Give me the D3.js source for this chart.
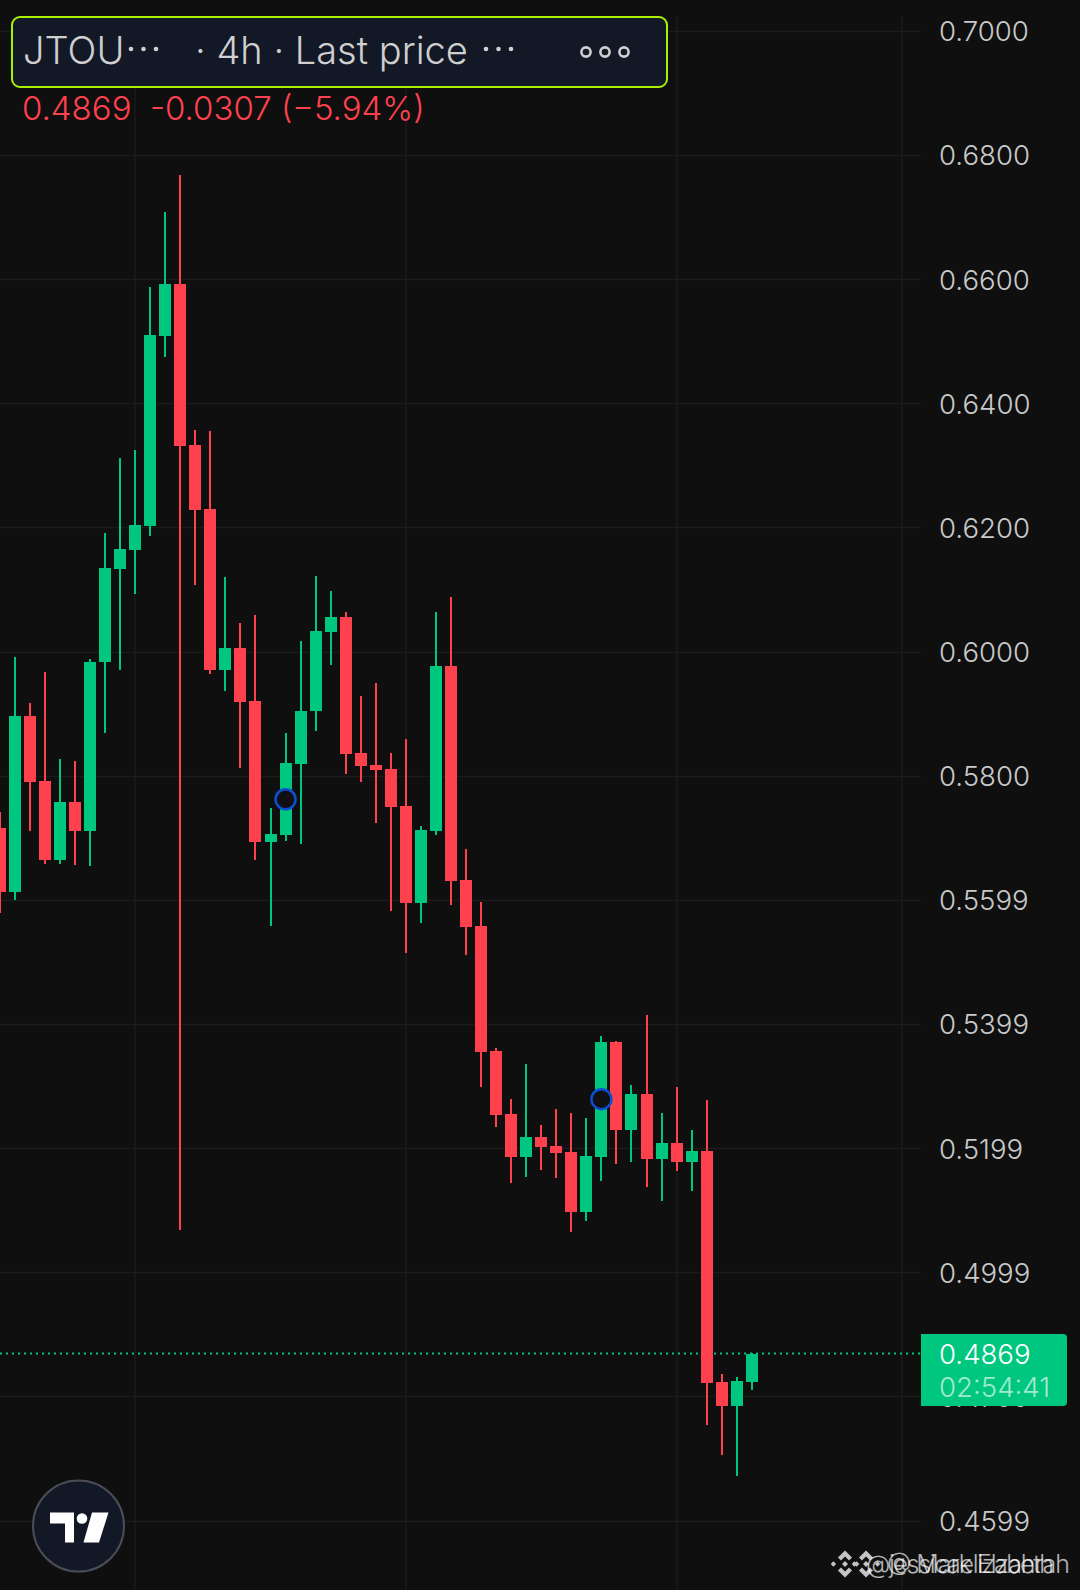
<!DOCTYPE html>
<html>
<head>
<meta charset="utf-8">
<script src="https://cdn.jsdelivr.net/npm/d3@7/dist/d3.min.js"></script>
<style>
  html, body { margin: 0; padding: 0; background: #0f0f0f; }
  svg { display: block; font-family: Inter, "Noto Sans", sans-serif; }
</style>
</head>
<body>
<div id="chart"></div>
<script>
'use strict';

var opens = [0.5716, 0.5612, 0.5896, 0.5791, 0.5664, 0.5758, 0.5711, 0.5983, 0.6133, 0.6164, 0.6202, 0.6508, 0.6592,
    0.6333, 0.6229, 0.5970, 0.6006, 0.5920, 0.5693, 0.5704, 0.5819, 0.5904, 0.6031, 0.6056, 0.5836, 0.5818, 0.5811,
    0.5752, 0.5595, 0.5711, 0.5977, 0.5632, 0.5558, 0.5357, 0.5255, 0.5186, 0.5218, 0.5204, 0.5194, 0.5097, 0.5186,
    0.5371, 0.5229, 0.5287, 0.5183, 0.5208, 0.5178, 0.5196, 0.4823, 0.4785, 0.4823];
var highs = [0.5741, 0.5991, 0.5917, 0.5967, 0.5827, 0.5823, 0.5988, 0.6191, 0.6312, 0.6325, 0.6587, 0.6708, 0.6768,
    0.6357, 0.6355, 0.6120, 0.6046, 0.6059, 0.5748, 0.5869, 0.6017, 0.6122, 0.6098, 0.6063, 0.5929, 0.5949, 0.5836,
    0.5859, 0.5719, 0.6064, 0.6088, 0.5682, 0.5597, 0.5361, 0.5280, 0.5336, 0.5237, 0.5263, 0.5257, 0.5249, 0.5380,
    0.5372, 0.5302, 0.5414, 0.5257, 0.5298, 0.5229, 0.5278, 0.4836, 0.4831, 0.4870];
var lows = [0.5579, 0.5600, 0.5711, 0.5658, 0.5658, 0.5656, 0.5655, 0.5869, 0.5970, 0.6093, 0.6186, 0.6474, 0.5068,
    0.6107, 0.5964, 0.5937, 0.5813, 0.5665, 0.5558, 0.5695, 0.5690, 0.5872, 0.5979, 0.5803, 0.5790, 0.5724, 0.5582,
    0.5514, 0.5562, 0.5705, 0.5592, 0.5511, 0.5298, 0.5234, 0.5144, 0.5154, 0.5165, 0.5152, 0.5065, 0.5083, 0.5147,
    0.5175, 0.5178, 0.5137, 0.5115, 0.5163, 0.5131, 0.4754, 0.4706, 0.4672, 0.4810];
var closes = [0.5612, 0.5896, 0.5790, 0.5664, 0.5758, 0.5711, 0.5984, 0.6135, 0.6165, 0.6204, 0.6510, 0.6592, 0.6331,
    0.6228, 0.5970, 0.6006, 0.5919, 0.5693, 0.5706, 0.5821, 0.5905, 0.6033, 0.6056, 0.5835, 0.5816, 0.5809, 0.5749,
    0.5595, 0.5713, 0.5977, 0.5631, 0.5557, 0.5355, 0.5253, 0.5186, 0.5218, 0.5202, 0.5192, 0.5097, 0.5188, 0.5371,
    0.5229, 0.5287, 0.5183, 0.5208, 0.5178, 0.5196, 0.4822, 0.4785, 0.4825, 0.4869];

var priceTicks = [0.70, 0.68, 0.66, 0.64, 0.62, 0.60, 0.58, 0.56, 0.54, 0.52, 0.50, 0.48, 0.46];
var priceLabels = ['0.7000', '0.6800', '0.6600', '0.6400', '0.6200', '0.6000', '0.5800', '0.5599', '0.5399', '0.5199',
    '0.4999', '0.4799', '0.4599'];
var timeGrid = [9, 27, 45, 60];

var markerBars = [19, 40];
var markerPrices = [0.5762, 0.5279];

var lastPrice = 0.4869;
var lastPriceText = '0.4869';
var countdownText = '02:54:41';
var changeText = '0.4869  -0.0307 (\u22125.94%)';
var titleTexts = ['JTOU', '\u00b7 4h \u00b7 Last price'];
var watermarks = ['@jessicaelizabeth', '@ Mark Elzahrah'];

var width = 1080;
var height = 1590;
var plotRight = 921;

var green = '#00c77f';
var red = '#ff414d';
var gridColor = '#1b1b1b';
var axisText = '#c9c9c9';

var svg = d3.select('#chart')
    .append('svg')
    .attr('width', width)
    .attr('height', height);

svg.append('rect')
    .attr('width', width)
    .attr('height', height)
    .attr('fill', '#0f0f0f');

var x = d3.scaleLinear().domain([0, 50]).range([-0.2, 751.8]);
var y = d3.scaleLinear().domain([0.68, 0.46]).range([155, 1520.6]);

// grid
svg.append('g')
    .selectAll('line')
    .data(priceTicks)
    .enter()
    .append('line')
    .attr('x1', 0)
    .attr('x2', plotRight)
    .attr('y1', function (d) { return Math.round(y(d)) + 0.5; })
    .attr('y2', function (d) { return Math.round(y(d)) + 0.5; })
    .attr('stroke', gridColor)
    .attr('stroke-width', 1.5);

svg.append('g')
    .selectAll('line')
    .data(timeGrid)
    .enter()
    .append('line')
    .attr('x1', function (d) { return Math.round(x(d)); })
    .attr('x2', function (d) { return Math.round(x(d)); })
    .attr('y1', 17)
    .attr('y2', height)
    .attr('stroke', gridColor)
    .attr('stroke-width', 1.5);

// price axis
var axis = d3.axisRight(y)
    .tickValues(priceTicks)
    .tickSize(0)
    .tickPadding(0)
    .tickFormat(function (d, i) { return priceLabels[i]; });

var axisGroup = svg.append('g')
    .attr('transform', 'translate(939,0)')
    .call(axis);
axisGroup.select('.domain').remove();
axisGroup.selectAll('text')
    .attr('fill', axisText)
    .attr('font-family', 'Inter, "Noto Sans", sans-serif')
    .attr('font-weight', 300)
    .attr('font-size', 27.6)
    .attr('dy', '0.36em');

// last price line
svg.append('line')
    .attr('x1', 0)
    .attr('x2', plotRight)
    .attr('y1', y(lastPrice))
    .attr('y2', y(lastPrice))
    .attr('stroke', green)
    .attr('stroke-width', 2)
    .attr('stroke-dasharray', '2 4');

// candles
var candles = svg.append('g')
    .selectAll('g')
    .data(d3.range(opens.length))
    .enter()
    .append('g')
    .attr('fill', function (i) { return closes[i] >= opens[i] ? green : red; })
    .attr('shape-rendering', 'crispEdges');

candles.append('rect')
    .attr('x', function (i) { return Math.round(x(i)) - 1; })
    .attr('width', 2)
    .attr('y', function (i) { return y(highs[i]); })
    .attr('height', function (i) { return y(lows[i]) - y(highs[i]); });

candles.append('rect')
    .attr('x', function (i) { return Math.round(x(i)) - 6; })
    .attr('width', 12)
    .attr('y', function (i) { return y(Math.max(opens[i], closes[i])); })
    .attr('height', function (i) { return Math.abs(y(opens[i]) - y(closes[i])); });

// blue circle markers
svg.append('g')
    .selectAll('circle')
    .data(markerBars)
    .enter()
    .append('circle')
    .attr('cx', function (d) { return x(d); })
    .attr('cy', function (d, i) { return y(markerPrices[i]); })
    .attr('r', 10)
    .attr('fill', '#0f0f14')
    .attr('stroke', '#0c4fd0')
    .attr('stroke-width', 2.5);

// last price label
svg.append('path')
    .attr('d', 'M921,1334H1063a4,4 0 0 1 4,4V1402a4,4 0 0 1 -4,4H921Z')
    .attr('fill', green);

svg.append('text')
    .attr('x', 939)
    .attr('y', 1364)
    .attr('fill', '#ffffff')
    .attr('font-weight', 300)
    .attr('font-size', 27.6)
    .text(lastPriceText);

svg.append('text')
    .attr('x', 939)
    .attr('y', 1397)
    .attr('fill', '#ffffff')
    .attr('fill-opacity', 0.65)
    .attr('font-weight', 300)
    .attr('font-size', 27.6)
    .text(countdownText);

// header
svg.append('rect')
    .attr('x', 12)
    .attr('y', 17)
    .attr('width', 655)
    .attr('height', 70)
    .attr('rx', 8)
    .attr('fill', '#121826')
    .attr('stroke', '#a8f000')
    .attr('stroke-width', 2);

svg.append('text')
    .attr('x', 23)
    .attr('y', 64)
    .attr('fill', '#cfcfcf')
    .attr('font-weight', 300)
    .attr('font-size', 38)
    .text(titleTexts[0]);

svg.append('text')
    .attr('x', 195)
    .attr('y', 64)
    .attr('fill', '#cfcfcf')
    .attr('font-weight', 300)
    .attr('font-size', 38)
    .text(titleTexts[1]);

function threeDots(cx, cy) {
    svg.append('g')
        .selectAll('circle')
        .data([0, 1, 2])
        .enter()
        .append('circle')
        .attr('cx', function (d) { return cx + d * 12.5; })
        .attr('cy', cy)
        .attr('r', 2.3)
        .attr('fill', '#cfcfcf');
}
threeDots(131, 49);
threeDots(486, 49);

svg.append('g')
    .selectAll('circle')
    .data([586, 605, 624])
    .enter()
    .append('circle')
    .attr('cx', function (d) { return d; })
    .attr('cy', 52)
    .attr('r', 4.6)
    .attr('fill', 'none')
    .attr('stroke', '#cfcfcf')
    .attr('stroke-width', 2.6);

svg.append('text')
    .attr('x', 22)
    .attr('y', 120)
    .attr('fill', red)
    .attr('font-weight', 300)
    .attr('font-size', 33)
    .style('white-space', 'pre')
    .text(changeText);

// logo
svg.append('circle')
    .attr('cx', 78.5)
    .attr('cy', 1526)
    .attr('r', 45.5)
    .attr('fill', '#121826')
    .attr('stroke', '#4a4d57')
    .attr('stroke-width', 2);

var logo = svg.append('g').attr('fill', '#ffffff');
logo.append('path').attr('d', 'M50,1512.5H74V1542.5H65V1523.5H50Z');
logo.append('circle').attr('cx', 82).attr('cy', 1518.5).attr('r', 5.3);
logo.append('path').attr('d', 'M92,1512.5H108.5L99,1542.5H83.5Z');

// watermark
function diamonds(cx, cy, s) {
    var g = svg.append('g')
        .attr('transform', 'translate(' + cx + ',' + cy + ') scale(' + s + ')')
        .attr('fill', '#c4c4c4');
    g.append('path').attr('d', 'M0,-2.2L2.2,0L0,2.2L-2.2,0Z');
    g.append('path').attr('d', 'M-8.6,-2L-6.6,0L-8.6,2L-10.6,0Z');
    g.append('path').attr('d', 'M8.6,-2L10.6,0L8.6,2L6.6,0Z');
    g.append('path').attr('d', 'M0,-10L5.2,-4.8L3,-2.6L0,-5.6L-3,-2.6L-5.2,-4.8Z');
    g.append('path').attr('d', 'M0,10L5.2,4.8L3,2.6L0,5.6L-3,2.6L-5.2,4.8Z');
}
diamonds(845, 1564, 1.35);
diamonds(866, 1564, 1.35);

svg.append('text')
    .attr('x', 866)
    .attr('y', 1573)
    .attr('fill', '#ffffff')
    .attr('fill-opacity', 0.7)
    .attr('font-weight', 300)
    .attr('font-size', 25)
    .attr('textLength', 188)
    .text(watermarks[0]);

svg.append('text')
    .attr('x', 887)
    .attr('y', 1573)
    .attr('fill', '#ffffff')
    .attr('fill-opacity', 0.7)
    .attr('font-weight', 300)
    .attr('font-size', 25)
    .attr('textLength', 183)
    .text(watermarks[1]);
</script>
</body>
</html>
